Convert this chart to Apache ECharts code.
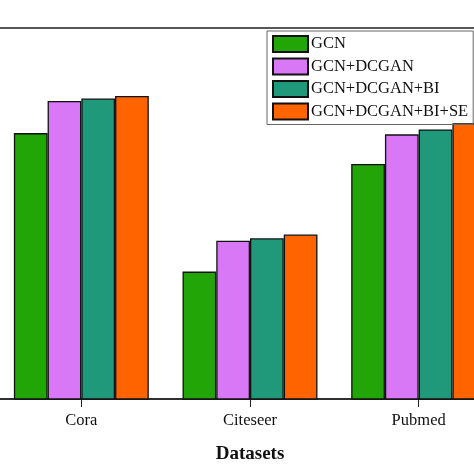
<!DOCTYPE html>
<html>
<head>
<meta charset="utf-8">
<script src="https://cdn.jsdelivr.net/npm/echarts@6/dist/echarts.min.js"></script>
<style>
  html, body { margin: 0; padding: 0; background: #fff; overflow: hidden; }
  body { width: 474px; height: 474px; position: relative; }
  /* the plot frame runs past both edges of the picture */
  #chart { position: absolute; left: -3px; top: 0; width: 506px; height: 474px; }
</style>
</head>
<body>
<div id="chart"></div>
<script>
// datasets and accuracy (%)
var datasets = ['Cora', 'Citeseer', 'Pubmed'];
var gcn = [81.5, 70.3, 79.0];
var gcnDcgan = [84.1, 72.8, 81.4];
var gcnDcganBi = [84.3, 73.0, 81.8];
var gcnDcganBiSe = [84.5, 73.3, 82.3];

var chart = echarts.init(document.getElementById('chart'));
var serif = 'Liberation Serif';

function bar(name, data, color) {
    return {
        name: name,
        type: 'bar',
        data: data,
        barGap: 0,
        barCategoryGap: '20%',
        itemStyle: { color: color, borderColor: '#111', borderWidth: 1.3 }
    };
}

var option = {
    animation: false,
    grid: {
        show: true,
        left: 0,
        right: 0,
        top: 28,
        bottom: 75,
        borderColor: '#222',
        borderWidth: 1.5
    },
    legend: {
        orient: 'vertical',
        left: 270,
        top: 31,
        padding: [4, 5, 4, 5],
        itemWidth: 35,
        itemHeight: 16,
        itemGap: 4.5,
        borderColor: '#666',
        borderWidth: 1,
        icon: 'rect',
        textStyle: { fontFamily: serif, fontSize: 16.5, color: '#111', padding: [0, 0, 0, -2] },
        data: ['GCN', 'GCN+DCGAN', 'GCN+DCGAN+BI', 'GCN+DCGAN+BI+SE']
    },
    xAxis: {
        type: 'category',
        data: datasets,
        name: 'Datasets',
        nameLocation: 'middle',
        nameGap: 46,
        nameTextStyle: { fontFamily: serif, fontSize: 19, fontWeight: 'bold', color: '#111' },
        axisLine: { lineStyle: { color: '#222', width: 1.5 } },
        axisTick: { show: true, inside: false, alignWithLabel: true, length: 8, lineStyle: { color: '#222', width: 1 } },
        axisLabel: { fontFamily: serif, fontSize: 16.5, color: '#111', margin: 13 }
    },
    yAxis: {
        type: 'value',
        min: 60,
        max: 90,
        axisLine: { show: false },
        axisTick: { show: false },
        axisLabel: { show: false },
        splitLine: { show: false }
    },
    series: [
        bar('GCN', gcn, '#21a507'),
        bar('GCN+DCGAN', gcnDcgan, '#d878f7'),
        bar('GCN+DCGAN+BI', gcnDcganBi, '#20997a'),
        bar('GCN+DCGAN+BI+SE', gcnDcganBiSe, '#ff6400')
    ]
};
chart.setOption(option);
</script>
</body>
</html>
